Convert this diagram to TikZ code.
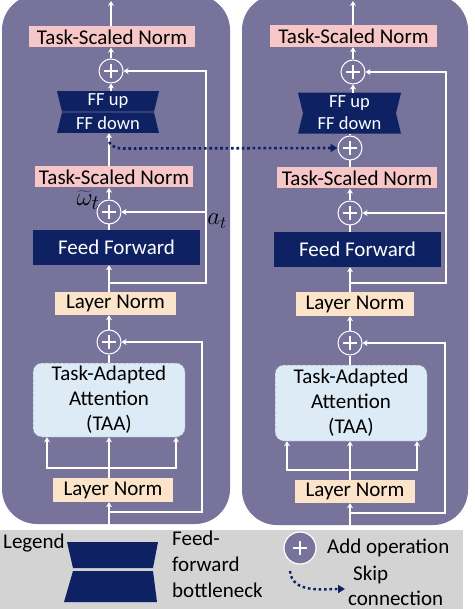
\documentclass[tikz,border=0pt]{standalone}
\usepackage{fontspec}
\setmainfont{Carlito}
\usetikzlibrary{arrows.meta}
\definecolor{panelc}{RGB}{119,115,155}
\definecolor{pinkc}{RGB}{246,199,198}
\definecolor{beigec}{RGB}{251,228,201}
\definecolor{navyc}{RGB}{14,34,99}
\definecolor{taac}{RGB}{221,235,246}
\definecolor{taaborder}{RGB}{140,150,165}
\definecolor{legc}{RGB}{211,211,211}
\tikzset{
  lbl/.style={font=\fontsize{21}{25}\selectfont, inner sep=0pt},
  tsnbox/.style={lbl, fill=pinkc, text=black, minimum height=21pt},
  lnbox/.style={lbl, fill=beigec, text=black, minimum height=24pt},
  ffbox/.style={lbl, fill=navyc, text=white, minimum height=35pt},
  taabox/.style={lbl, fill=taac, draw=taaborder, densely dashed, line width=0.5pt, rounded corners=9pt, align=center, text=black},
  ffup/.style={inner sep=0pt, text=white, font=\fontsize{18.5}{20}\selectfont, minimum height=20.5pt,
    path picture={\fill[navyc] (path picture bounding box.north west) -- (path picture bounding box.north east)
      -- ([xshift=-5pt]path picture bounding box.south east) -- ([xshift=5pt]path picture bounding box.south west) -- cycle;}},
  ffdown/.style={inner sep=0pt, text=white, font=\fontsize{18.5}{20}\selectfont, minimum height=20.5pt,
    path picture={\fill[navyc] ([xshift=5pt]path picture bounding box.north west) -- ([xshift=-5pt]path picture bounding box.north east)
      -- (path picture bounding box.south east) -- (path picture bounding box.south west) -- cycle;}},
  plusop/.style={circle, draw=white, line width=1pt, minimum size=24pt, inner sep=0pt,
    path picture={\draw[white, line width=1.1pt]
      ([xshift=-7pt]path picture bounding box.center) -- ([xshift=7pt]path picture bounding box.center)
      ([yshift=-7pt]path picture bounding box.center) -- ([yshift=7pt]path picture bounding box.center);}},
  flow/.style={white, line width=1.8pt},
  arr/.style={flow, -{Stealth[length=5pt,width=6pt]}},
  biarr/.style={flow, {Stealth[length=5pt,width=6pt]}-{Stealth[length=5pt,width=6pt]}},
  skiparr/.style={navyc, line width=2.6pt, dash pattern=on 2.6pt off 2.8pt, -{Triangle[length=7pt,width=8pt]}},
}
\begin{document}
\begin{tikzpicture}[x=1pt, y=-1pt]
\useasboundingbox (0,0) rectangle (474,609);
% panels
\fill[panelc, rounded corners=35pt] (2,-5) rectangle (230,524);
\fill[panelc, rounded corners=35pt] (242,-5) rectangle (468,525);
% legend background
\fill[legc] (0,530) rectangle (463,609);

% ---------- left block ----------
\node[tsnbox, minimum width=166pt] (tsnTopL) at (112,37) {Task-Scaled Norm};
\node[plusop] (plus1L) at (111,71) {};
\node[ffup, minimum width=102pt] (ffupL) at (108,101.5) {FF up};
\node[ffdown, minimum width=102pt] (ffdnL) at (108,122.75) {FF down};
\node[tsnbox, minimum width=158pt] (tsnMidL) at (114,177) {Task-Scaled Norm};
\node[plusop] (plus2L) at (109,212) {};
\node[ffbox, minimum width=167pt] (ffL) at (116.5,247.5) {Feed Forward};
\node[lnbox, minimum width=121pt, minimum height=23pt] (lnTopL) at (115.5,303.5) {Layer Norm};
\node[plusop] (plus3L) at (109,342) {};
\node[taabox, minimum width=152pt, minimum height=74pt] (taaL) at (109,400) {Task-Adapted\\Attention\\(TAA)};
\node[lnbox, minimum width=120pt] (lnBotL) at (113,490) {Layer Norm};
\node[inner sep=0pt, font=\fontsize{28}{30}\selectfont] (omegaL) at (88,200.5) {$\widetilde{\omega}_t$};
\node[inner sep=0pt, font=\fontsize{26}{30}\selectfont] (atL) at (217,221) {$a_t$};

\coordinate (topL) at (111,1);
\coordinate (jUL) at (109,283);
\coordinate (sUL) at (206,283);
\coordinate (botL) at (109,527);
\coordinate (jLL) at (109,512);
\coordinate (sLL) at (202,512);
\coordinate (tL1) at (47,468);
\coordinate (tL3) at (176,468);
\coordinate (dsL) at (109,142);
\coordinate (dsM) at (124,148.5);

\draw[arr] (tsnTopL.north -| topL) -- (topL);
\draw[arr] (plus1L.north) -- (plus1L.north |- tsnTopL.south);
\draw[arr] (ffupL.north -| plus1L) -- (plus1L.south);
\draw[arr] (tsnMidL.north -| plus2L) -- (ffdnL.south -| plus2L);
\draw[arr] (plus2L.north) -- (plus2L.north |- tsnMidL.south);
\draw[flow] (ffL.north -| plus2L) -- (plus2L.south);
\draw[flow] (lnTopL.north -| jUL) -- (jUL);
\draw[arr] (jUL) -- (jUL |- ffL.south);
\draw[arr] (jUL) -- (sUL) |- (plus1L.east);
\draw[arr] (sUL |- plus2L) -- (plus2L.east);
\draw[arr] (plus3L.north) -- (plus3L.north |- lnTopL.south);
\draw[flow] (taaL.north -| plus3L) -- (plus3L.south);
\draw[arr] (botL) -- (botL |- lnBotL.south);
\draw[arr] (jLL) -- (sLL) |- (plus3L.east);
\draw[arr] (lnBotL.north -| jLL) -- (jLL |- taaL.south);
\draw[biarr] (tL1 |- taaL.south) -- (tL1) -- (tL3) -- (tL3 |- taaL.south);

% ---------- right block ----------
\node[tsnbox, minimum width=167pt, minimum height=22pt] (tsnTopR) at (353.5,36) {Task-Scaled Norm};
\node[plusop] (plus1R) at (353,72) {};
\node[ffup, minimum width=103pt] (ffupR) at (349.5,103) {FF up};
\node[ffdown, minimum width=103pt] (ffdnR) at (349.5,123.5) {FF down};
\node[plusop] (plusSR) at (350,148) {};
\node[tsnbox, minimum width=160pt] (tsnMidR) at (357,178) {Task-Scaled Norm};
\node[plusop] (plus2R) at (350,213) {};
\node[ffbox, minimum width=167pt] (ffR) at (357.5,249.5) {Feed Forward};
\node[lnbox, minimum width=118pt] (lnTopR) at (355,304) {Layer Norm};
\node[plusop] (plus3R) at (350,343) {};
\node[taabox, minimum width=152pt, minimum height=76pt] (taaR) at (351,403) {Task-Adapted\\Attention\\(TAA)};
\node[lnbox, minimum width=120pt, minimum height=23pt] (lnBotR) at (355,491.5) {Layer Norm};

\coordinate (topR) at (353,1);
\coordinate (jUR) at (350,283);
\coordinate (sUR) at (446,283);
\coordinate (botR) at (350,527);
\coordinate (jLR) at (350,513);
\coordinate (sLR) at (445,513);
\coordinate (tR1) at (287,470);
\coordinate (tR3) at (417,470);

\draw[arr] (tsnTopR.north -| topR) -- (topR);
\draw[arr] (plus1R.north) -- (plus1R.north |- tsnTopR.south);
\draw[arr] (ffupR.north -| plus1R) -- (plus1R.south);
\draw[flow] (plusSR.north) -- (plusSR.north |- ffdnR.south);
\draw[flow] (tsnMidR.north -| plusSR) -- (plusSR.south);
\draw[arr] (plus2R.north) -- (plus2R.north |- tsnMidR.south);
\draw[flow] (ffR.north -| plus2R) -- (plus2R.south);
\draw[flow] (lnTopR.north -| jUR) -- (jUR);
\draw[arr] (jUR) -- (jUR |- ffR.south);
\draw[arr] (jUR) -- (sUR) |- (plus1R.east);
\draw[arr] (sUR |- plus2R) -- (plus2R.east);
\draw[arr] (plus3R.north) -- (plus3R.north |- lnTopR.south);
\draw[flow] (taaR.north -| plus3R) -- (plus3R.south);
\draw[arr] (botR) -- (botR |- lnBotR.south);
\draw[arr] (jLR) -- (sLR) |- (plus3R.east);
\draw[arr] (lnBotR.north -| jLR) -- (jLR |- taaR.south);
\draw[biarr] (tR1 |- taaR.south) -- (tR1) -- (tR3) -- (tR3 |- taaR.south);

% skip connection
\draw[skiparr] (dsL) to[out=-60,in=180] (dsM) -- (plusSR.west);

% ---------- legend ----------
\node[lbl, anchor=west, text=black] (legendT) at (3,543) {Legend};
\fill[navyc] (67,542) -- (158,542) -- (153,568) -- (73,568) -- cycle;
\fill[navyc] (73,571) -- (153,571) -- (157,602) -- (64,602) -- cycle;
\node[lbl, anchor=north west, align=left, text=black, font=\fontsize{21}{26}\selectfont] (ffLeg) at (172,531) {Feed-\\forward\\bottleneck};
\node[plusop, fill=panelc, minimum size=32pt, line width=1.2pt] (plusLeg) at (300,548) {};
\node[lbl, anchor=west, text=black] (addT) at (327,548) {Add operation};
\coordinate (dlA) at (290,571);
\coordinate (dlB) at (345,589);
\draw[skiparr, line width=2.4pt] (dlA) to[out=-85,in=180] (dlB);
\node[lbl, anchor=west, text=black] (skipT) at (353,575) {Skip};
\node[lbl, anchor=west, text=black] (connT) at (348,598) {connection};
\end{tikzpicture}
\end{document}
